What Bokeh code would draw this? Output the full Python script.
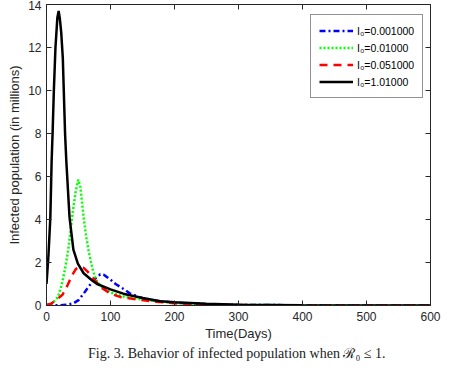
from bokeh.plotting import figure
from bokeh.models import Range1d, LinearAxis, FixedTicker, Legend, LegendItem, Title, CustomJSTickFormatter
from bokeh.embed import file_html
from bokeh.resources import INLINE

# Data (days, infected in millions)
t_black = [0, 3, 6, 8, 9.5, 11.5, 14, 17, 19, 21, 23, 25.5, 27, 29, 31, 36, 42, 49, 58, 70, 79, 100, 120, 150, 178, 200, 250, 300, 400, 500, 600]
i_black = [1.0, 2.3, 4.1, 6.7, 8.0, 10.0, 12.0, 13.4, 13.7, 13.3, 12.7, 11.5, 10.0, 8.0, 6.7, 4.1, 2.6, 1.95, 1.5, 1.2, 1.0, 0.75, 0.55, 0.35, 0.2, 0.15, 0.08, 0.04, 0.015, 0.005, 0.0]

t_green = [0, 7, 12, 18, 24, 29, 34, 40, 45, 49.5, 53, 58, 62, 66, 72, 77, 85, 100, 120, 140, 170, 200, 250, 300, 400, 500, 600]
i_green = [0.02, 0.07, 0.2, 0.4, 1.0, 1.7, 2.6, 4.1, 5.2, 5.85, 5.5, 4.1, 3.2, 2.5, 1.7, 1.2, 0.9, 0.6, 0.42, 0.32, 0.2, 0.12, 0.06, 0.03, 0.01, 0.004, 0.0]

t_red = [0, 7, 15, 25, 33, 40, 46, 52, 58, 65, 75, 85, 100, 115, 140, 170, 200, 250, 300, 400, 500, 600]
i_red = [0.02, 0.08, 0.25, 0.5, 0.95, 1.4, 1.7, 1.8, 1.75, 1.55, 1.2, 0.85, 0.55, 0.4, 0.28, 0.18, 0.1, 0.05, 0.02, 0.005, 0.002, 0.0]

t_blue = [0, 20, 30, 42, 50, 58, 64, 69, 76, 84, 90, 100, 108, 116, 124, 131, 147, 170, 200, 250, 300, 400, 500, 600]
i_blue = [0.0, 0.01, 0.03, 0.1, 0.25, 0.55, 0.8, 1.0, 1.25, 1.45, 1.42, 1.2, 1.0, 0.85, 0.7, 0.55, 0.37, 0.22, 0.13, 0.06, 0.03, 0.01, 0.004, 0.0]

labels = ["I\u2080=0.001000", "I\u2080=0.01000", "I\u2080=0.051000", "I\u2080=1.01000"]
x_ticks = [0, 100, 200, 300, 400, 500, 600]
y_ticks = [0, 2, 4, 6, 8, 10, 12, 14]

FONT = "Liberation Sans"
DARK = "#262626"

p = figure(width=458, height=361, output_backend="svg", toolbar_location=None,
           x_range=Range1d(0, 600), y_range=Range1d(0, 14),
           min_border_left=46, min_border_right=28, min_border_top=4, min_border_bottom=56)
p.grid.visible = False
p.outline_line_color = DARK
p.outline_line_width = 1
p.background_fill_color = "white"
p.border_fill_color = "white"

for ax in (p.xaxis[0], p.yaxis[0]):
    ax.axis_line_color = DARK
    ax.major_tick_line_color = DARK
    ax.minor_tick_line_color = None
    ax.major_tick_in = 5
    ax.major_tick_out = 0
    ax.major_label_text_font = FONT
    ax.major_label_text_font_size = "12px"
    ax.major_label_text_color = DARK
    ax.axis_label_text_font = FONT
    ax.axis_label_text_font_size = "13px"
    ax.axis_label_text_font_style = "normal"
    ax.axis_label_text_color = DARK

p.xaxis.ticker = FixedTicker(ticks=x_ticks)
p.yaxis.ticker = FixedTicker(ticks=y_ticks)
p.xaxis.axis_label = "Time(Days)"
p.yaxis.axis_label = "Infected population (in millions)"
p.xaxis.major_label_standoff = 6
p.yaxis.major_label_standoff = 5
p.xaxis.axis_label_standoff = 2
p.yaxis.axis_label_standoff = 3

# mirrored ticks on top and right (box on)
blank = CustomJSTickFormatter(code="return ''")
top = LinearAxis(ticker=FixedTicker(ticks=x_ticks), formatter=blank,
                 axis_line_color=None, major_tick_in=5, major_tick_out=0,
                 major_label_standoff=0,
                 major_tick_line_color=DARK, minor_tick_line_color=None)
right = LinearAxis(ticker=FixedTicker(ticks=y_ticks), formatter=blank,
                   axis_line_color=None, major_tick_in=5, major_tick_out=0,
                   major_label_standoff=0,
                   major_tick_line_color=DARK, minor_tick_line_color=None)
p.add_layout(top, "above")
p.add_layout(right, "right")

r_blue = p.line(t_blue, i_blue, line_color="#0000ff", line_width=2.5, line_dash="6 3 2 3")
r_green = p.line(t_green, i_green, line_color="#00ff00", line_width=2.5, line_dash="2 2")
r_red = p.line(t_red, i_red, line_color="#ff0000", line_width=2.5, line_dash="8 6")
r_black = p.line(t_black, i_black, line_color="black", line_width=2.5)

legend = Legend(items=[LegendItem(label=labels[0], renderers=[r_blue]),
                       LegendItem(label=labels[1], renderers=[r_green]),
                       LegendItem(label=labels[2], renderers=[r_red]),
                       LegendItem(label=labels[3], renderers=[r_black])],
                location="top_right",
                label_text_font=FONT, label_text_font_size="10.5px", label_text_color="black",
                border_line_color=DARK, border_line_width=1,
                glyph_width=34, glyph_height=15, label_height=15,
                spacing=2, padding=8, margin=0, label_standoff=4)
p.add_layout(legend)
legend.location = (264, 207)

cap = Title(text="Fig. 3.  Behavior of infected population when \u211b\u2080 \u2264 1.",
            text_font="Liberation Serif", text_font_size="14px", text_font_style="normal",
            text_color="#222222", align="center", offset=0, standoff=0)
p.add_layout(cap, "below")

open("out.html", "w").write(file_html(p, INLINE))
